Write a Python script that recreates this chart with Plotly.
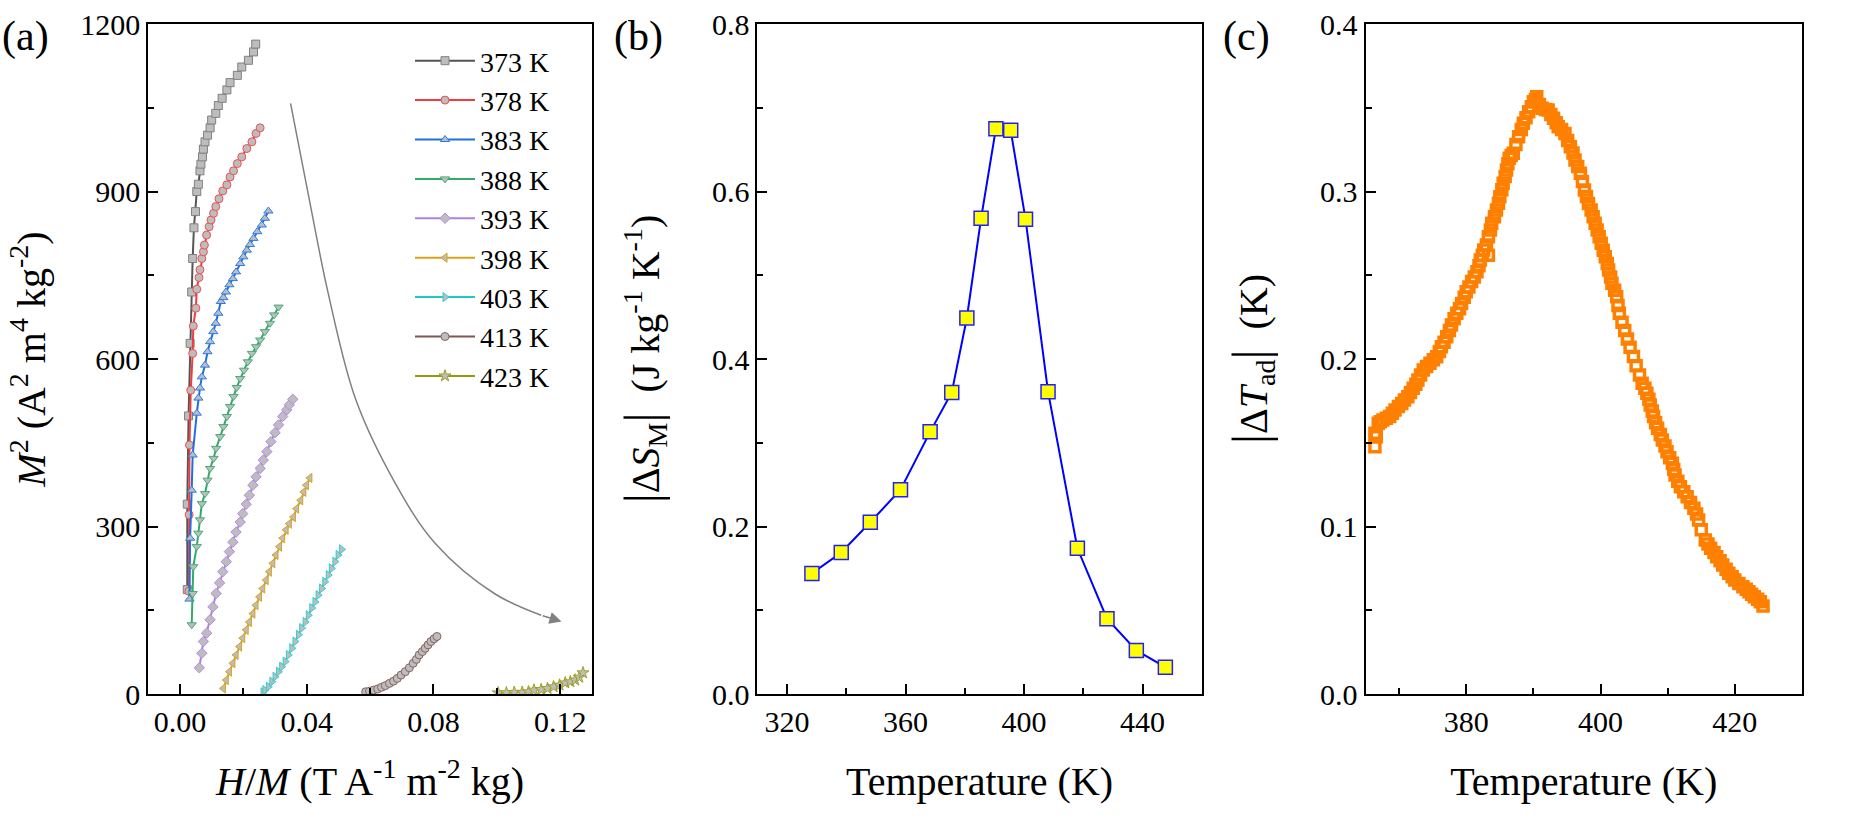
import plotly.graph_objects as go

FONT = "Liberation Serif, Times New Roman, serif"

# ---------------- Panel (a): Arrott plots M^2 vs H/M ----------------
temps_a = ["373 K", "378 K", "383 K", "388 K", "393 K", "398 K", "403 K", "413 K", "423 K"]
colors_a = ["#555555", "#F03C3C", "#1F6FE0", "#35A86B", "#B07FE6", "#D9A21B", "#22C8C8", "#7F5555", "#999911"]
edge_a = ["#808080", "#F05050", "#2A7BE8", "#40AF75", "#B888EA", "#D9A21B", "#30D0D0", "#8A6060", "#A0A020"]
symbols_a = ["square", "circle", "triangle-up", "triangle-down", "diamond", "triangle-left", "triangle-right", "circle", "star"]

hm_373 = [0.0023, 0.0023, 0.0027, 0.0032, 0.0037, 0.0040, 0.0044, 0.0049, 0.0053, 0.0058, 0.0063, 0.0066, 0.0071,
          0.0074, 0.0079, 0.0087, 0.0095, 0.0100, 0.0113, 0.0121, 0.0133, 0.0148, 0.0158, 0.0181, 0.0195, 0.0216,
          0.0232, 0.0239]
m2_373 = [187, 340, 498, 628, 720, 780, 835, 864, 900, 913, 937, 949, 962, 976, 989, 1001, 1014, 1028, 1040, 1054,
          1067, 1082, 1095, 1108, 1123, 1135, 1150, 1164]

hm_378 = [0.0028, 0.0029, 0.0030, 0.0034, 0.0040, 0.0042, 0.0050, 0.0053, 0.0060, 0.0063, 0.0069, 0.0074, 0.0077,
          0.0084, 0.0092, 0.0098, 0.0106, 0.0113, 0.0123, 0.0135, 0.0148, 0.0158, 0.0169, 0.0181, 0.0195, 0.0211,
          0.0227, 0.0240, 0.0253]
m2_378 = [184, 321, 446, 544, 610, 659, 691, 725, 746, 760, 780, 792, 804, 822, 837, 849, 861, 873, 887, 901, 912,
          926, 937, 950, 962, 977, 989, 1004, 1014]

hm_383 = [0.0030, 0.0032, 0.0037, 0.0040, 0.0053, 0.0058, 0.0063, 0.0069, 0.0079, 0.0087, 0.0095, 0.0105, 0.0113,
          0.0121, 0.0129, 0.0137, 0.0145, 0.0156, 0.0167, 0.0177, 0.0190, 0.0200, 0.0211, 0.0221, 0.0232, 0.0244,
          0.0258, 0.0268, 0.0279]
m2_383 = [170, 279, 365, 428, 503, 530, 548, 568, 589, 613, 631, 649, 664, 682, 703, 710, 720, 733, 744, 756, 771,
          783, 795, 805, 816, 828, 840, 852, 865]

hm_388 = [0.0037, 0.0040, 0.0042, 0.0053, 0.0058, 0.0063, 0.0069, 0.0079, 0.0087, 0.0095, 0.0106, 0.0114, 0.0127,
          0.0137, 0.0148, 0.0158, 0.0169, 0.0179, 0.0190, 0.0202, 0.0214, 0.0227, 0.0240, 0.0253, 0.0268, 0.0284,
          0.0297, 0.0311]
m2_388 = [124, 180, 228, 264, 288, 312, 341, 359, 383, 404, 422, 440, 461, 479, 497, 515, 533, 549, 565, 580, 595,
          610, 622, 634, 649, 664, 679, 693]

hm_393 = [0.0061, 0.0069, 0.0074, 0.0084, 0.0095, 0.0104, 0.0114, 0.0125, 0.0135, 0.0146, 0.0156, 0.0167, 0.0177,
          0.0190, 0.0198, 0.0209, 0.0219, 0.0230, 0.0240, 0.0253, 0.0263, 0.0274, 0.0287, 0.0300, 0.0311, 0.0324,
          0.0337, 0.0345, 0.0356]
m2_393 = [47, 73, 94, 109, 133, 156, 180, 199, 219, 237, 255, 272, 290, 308, 323, 340, 356, 374, 389, 404, 419, 434,
          452, 468, 482, 497, 509, 518, 528]

hm_398 = [0.0137, 0.0146, 0.0156, 0.0167, 0.0177, 0.0188, 0.0198, 0.0209, 0.0219, 0.0230, 0.0240, 0.0251, 0.0261,
          0.0272, 0.0282, 0.0293, 0.0303, 0.0314, 0.0324, 0.0335, 0.0345, 0.0358, 0.0368, 0.0381, 0.0391, 0.0399,
          0.0410]
m2_398 = [10, 25, 40, 55, 70, 85, 100, 115, 129, 144, 159, 174, 189, 204, 219, 234, 249, 264, 279, 294, 305, 317,
          332, 347, 362, 374, 387]

hm_403 = [0.0262, 0.0268, 0.0279, 0.0290, 0.0300, 0.0311, 0.0321, 0.0332, 0.0342, 0.0353, 0.0363, 0.0374, 0.0384,
          0.0395, 0.0405, 0.0416, 0.0426, 0.0436, 0.0447, 0.0457, 0.0468, 0.0478, 0.0489, 0.0499, 0.0510]
m2_403 = [3, 7, 13, 22, 31, 40, 49, 58, 70, 82, 94, 106, 118, 129, 141, 154, 165, 177, 189, 201, 213, 225, 237, 249,
          259]

hm_413 = [0.0586, 0.0598, 0.0611, 0.0624, 0.0636, 0.0648, 0.0661, 0.0674, 0.0686, 0.0698, 0.0711, 0.0724, 0.0736,
          0.0746, 0.0755, 0.0765, 0.0774, 0.0783, 0.0792, 0.0802, 0.0811]
m2_413 = [4, 5, 7, 9, 12, 15, 19, 23, 28, 34, 40, 47, 55, 62, 70, 76, 82, 88, 94, 99, 103]

hm_423 = [0.1004, 0.1030, 0.1055, 0.1080, 0.1100, 0.1117, 0.1140, 0.1160, 0.1179, 0.1198, 0.1216, 0.1232, 0.1247,
          0.1260, 0.1272]
m2_423 = [2, 2, 3, 3, 4, 7, 8, 10, 13, 16, 20, 22, 25, 30, 38]

series_a = [(hm_373, m2_373), (hm_378, m2_378), (hm_383, m2_383), (hm_388, m2_388), (hm_393, m2_393),
            (hm_398, m2_398), (hm_403, m2_403), (hm_413, m2_413), (hm_423, m2_423)]

# guide arrow in panel (a)
arrow_hm = [0.0349, 0.0410, 0.0468, 0.0555, 0.0680, 0.0805, 0.0992, 0.1140]
arrow_m2 = [1058, 880, 717, 527, 377, 270, 180, 141]
arrow_tip = (0.1204, 130)

# ---------------- Panel (b): |dS_M| vs T ----------------
temp_b = [328.4, 338.3, 348.1, 358.3, 368.3, 375.6, 380.7, 385.5, 390.5, 395.5, 400.5, 408.1, 418.0, 428.0, 437.9, 447.7]
ds_b = [0.144, 0.169, 0.205, 0.244, 0.313, 0.360, 0.449, 0.568, 0.675, 0.673, 0.567, 0.361, 0.174, 0.090, 0.052, 0.032]

# ---------------- Panel (c): |dT_ad| vs T ----------------
temp_c = [366.4, 366.4, 366.6, 366.9, 367.2, 367.6, 368.1, 368.6, 369.0, 369.4, 369.9, 370.4, 370.8, 371.3, 371.7,
          372.1, 372.5, 372.8, 373.2, 373.6, 374.1, 374.6, 375.1, 375.6, 376.0, 376.3, 376.7, 377.1, 377.5, 377.8,
          378.2, 378.6, 379.0, 379.3, 379.7, 380.0, 380.4, 380.8, 381.2, 381.6, 381.9, 382.1, 382.4, 382.6, 383.0,
          383.3, 383.3, 383.6, 383.8, 384.2, 384.5, 384.8, 385.0, 385.3, 385.5, 385.8, 386.0, 386.2, 386.4, 386.7,
          387.0, 387.4, 387.8, 388.2, 388.5, 388.9, 389.3, 389.7, 390.0, 390.3, 390.5, 390.9, 391.3, 391.8, 392.2,
          392.6, 393.0, 393.4, 393.7, 394.2, 394.7, 395.1, 395.5, 395.9, 396.2, 396.6, 397.0, 397.3, 397.6, 397.9,
          398.2, 398.6, 398.9, 399.2, 399.5, 399.8, 400.1, 400.4, 400.7, 401.0, 401.2, 401.5, 401.7, 402.1, 402.4,
          402.6, 402.8, 403.2, 403.6, 404.0, 404.4, 404.9, 405.3, 405.8, 406.2, 406.6, 406.9, 407.2, 407.4, 407.7,
          407.9, 408.2, 408.5, 408.9, 409.2, 409.6, 409.9, 410.3, 410.7, 410.9, 411.1, 411.5, 411.9, 412.4, 412.9,
          413.4, 413.9, 414.3, 414.6, 415.0, 415.6, 416.0, 416.4, 416.9, 417.3, 417.8, 418.2, 418.7, 419.1, 419.6,
          420.0, 420.6, 421.2, 421.7, 422.1, 422.5, 422.9, 423.4, 423.8, 424.2]
dt_c = [0.1476, 0.1556, 0.1536, 0.1616, 0.1625, 0.1636, 0.1646, 0.1656, 0.1676, 0.1696, 0.1716, 0.1735, 0.1755,
        0.1775, 0.1800, 0.1825, 0.1850, 0.1875, 0.1905, 0.1934, 0.1955, 0.1974, 0.1995, 0.2014, 0.2045, 0.2073,
        0.2100, 0.2133, 0.2170, 0.2203, 0.2240, 0.2273, 0.2300, 0.2332, 0.2368, 0.2402, 0.2430, 0.2462, 0.2490,
        0.2521, 0.2556, 0.2591, 0.2620, 0.2651, 0.2680, 0.2620, 0.2730, 0.2770, 0.2810, 0.2850, 0.2890, 0.2930,
        0.2969, 0.3010, 0.3049, 0.3090, 0.3128, 0.3165, 0.3198, 0.3215, 0.3228, 0.3280, 0.3327, 0.3370, 0.3407,
        0.3440, 0.3476, 0.3506, 0.3536, 0.3550, 0.3566, 0.3520, 0.3497, 0.3490, 0.3487, 0.3460, 0.3437, 0.3410,
        0.3387, 0.3370, 0.3347, 0.3305, 0.3267, 0.3230, 0.3188, 0.3150, 0.3109, 0.3060, 0.3009, 0.2970, 0.2929,
        0.2890, 0.2850, 0.2810, 0.2770, 0.2730, 0.2691, 0.2650, 0.2611, 0.2570, 0.2531, 0.2490, 0.2452, 0.2410,
        0.2372, 0.2320, 0.2273, 0.2220, 0.2170, 0.2120, 0.2070, 0.2015, 0.1960, 0.1905, 0.1855, 0.1825, 0.1795,
        0.1760, 0.1725, 0.1690, 0.1656, 0.1620, 0.1586, 0.1550, 0.1516, 0.1480, 0.1447, 0.1410, 0.1377, 0.1340,
        0.1307, 0.1270, 0.1238, 0.1208, 0.1178, 0.1143, 0.1109, 0.1075, 0.1039, 0.0980, 0.0919, 0.0895, 0.0870,
        0.0845, 0.0820, 0.0795, 0.0770, 0.0745, 0.0721, 0.0700, 0.0681, 0.0660, 0.0641, 0.0625, 0.0611, 0.0595,
        0.0581, 0.0565, 0.0551, 0.0525]

fig = go.Figure()

for i, (xs, ys) in enumerate(series_a):
    fig.add_trace(go.Scatter(
        x=xs, y=ys, name=temps_a[i], mode="lines+markers", xaxis="x", yaxis="y",
        line=dict(color=colors_a[i], width=2),
        marker=dict(symbol=symbols_a[i], size=8 if symbols_a[i] != "star" else 9, color="#BDBDBD",
                    line=dict(color=edge_a[i], width=1)),
    ))

fig.add_trace(go.Scatter(x=arrow_hm, y=arrow_m2, mode="lines", xaxis="x", yaxis="y", showlegend=False,
                         line=dict(color="#808080", width=1.5, shape="spline"), hoverinfo="skip"))

fig.add_trace(go.Scatter(x=temp_b, y=ds_b, mode="lines+markers", xaxis="x2", yaxis="y2", showlegend=False,
                         line=dict(color="#0000FF", width=2),
                         marker=dict(symbol="square", size=14, color="#FFFF00", line=dict(color="#2020FF", width=1.5))))

fig.add_trace(go.Scatter(x=temp_c, y=dt_c, mode="markers", xaxis="x3", yaxis="y3", showlegend=False,
                         marker=dict(symbol="square-open", size=10, color="#FF8000", line=dict(width=3.5))))

W, H = 1850, 820
def dom(a, b, total):
    return [a / total, b / total]

ydom = [1 - 694 / H, 1 - 24 / H]
tickfont = dict(family=FONT, size=30, color="black")
titlefont = dict(family=FONT, size=40, color="black")

def axis_common():
    return dict(showline=True, linecolor="black", linewidth=2, mirror=True, ticks="inside", ticklen=10,
                tickwidth=2, tickcolor="black", showgrid=False, zeroline=False, tickfont=tickfont,
                automargin=False)

xa = axis_common(); xa.update(domain=dom(148.3, 591.9, W), range=[-0.01, 0.13], tick0=0, dtick=0.04,
                              tickformat=".2f", anchor="y",
                              minor=dict(dtick=0.02, ticklen=6, tickwidth=2, tickcolor="black", ticks="inside"),
                              title=dict(text="<i>H</i>/<i>M</i> (T A<sup>-1</sup> m<sup>-2</sup> kg)",
                                         font=titlefont, standoff=30))
ya = axis_common(); ya.update(domain=ydom, range=[0, 1200], tick0=0, dtick=300, anchor="x",
                              minor=dict(dtick=150, ticklen=6, tickwidth=2, tickcolor="black", ticks="inside"),
                              title=dict(text="<i>M</i><sup>2</sup> (A<sup>2</sup> m<sup>4</sup> kg<sup>-2</sup>)",
                                         font=titlefont, standoff=22))
xb = axis_common(); xb.update(domain=dom(757.4, 1201.8, W), range=[310, 460], tick0=320, dtick=40, anchor="y2",
                              minor=dict(dtick=20, ticklen=6, tickwidth=2, tickcolor="black", ticks="inside"),
                              title=dict(text="Temperature (K)", font=titlefont, standoff=30))
yb = axis_common(); yb.update(domain=ydom, range=[0, 0.8], tick0=0, dtick=0.2, tickformat=".1f", anchor="x2",
                              minor=dict(dtick=0.1, ticklen=6, tickwidth=2, tickcolor="black", ticks="inside"),
                              title=dict(text="<span style='font-size:50px'>|</span>\u0394<i>S</i><sub>M</sub><span style='font-size:50px'>|</span>  (J kg<sup>-1</sup> K<sup>-1</sup>)",
                                         font=titlefont, standoff=40))
xc = axis_common(); xc.update(domain=dom(1365.5, 1802, W), range=[365, 430], tick0=380, dtick=20, anchor="y3",
                              minor=dict(dtick=10, ticklen=6, tickwidth=2, tickcolor="black", ticks="inside"),
                              title=dict(text="Temperature (K)", font=titlefont, standoff=30))
yc = axis_common(); yc.update(domain=ydom, range=[0, 0.4], tick0=0, dtick=0.1, tickformat=".1f", anchor="x3",
                              minor=dict(dtick=0.05, ticklen=6, tickwidth=2, tickcolor="black", ticks="inside"),
                              title=dict(text="<span style='font-size:50px'>|</span>\u0394<i>T</i><sub>ad</sub><span style='font-size:50px'>|</span>  (K)",
                                         font=titlefont, standoff=40))

annotations = [
    dict(text="(a)", x=0.0, y=1 - 36 / H, xref="paper", yref="paper", xanchor="left", yanchor="middle",
         showarrow=False, font=dict(family=FONT, size=42, color="black")),
    dict(text="(b)", x=612 / W, y=1 - 36 / H, xref="paper", yref="paper", xanchor="left", yanchor="middle",
         showarrow=False, font=dict(family=FONT, size=42, color="black")),
    dict(text="(c)", x=1221 / W, y=1 - 36 / H, xref="paper", yref="paper", xanchor="left", yanchor="middle",
         showarrow=False, font=dict(family=FONT, size=42, color="black")),
    dict(text="", x=arrow_tip[0], y=arrow_tip[1], ax=arrow_hm[-1], ay=arrow_m2[-1], xref="x", yref="y",
         axref="x", ayref="y", showarrow=True, arrowhead=2, arrowsize=1.6, arrowwidth=1.5, arrowcolor="#808080"),
]

fig.update_layout(
    width=W, height=H, margin=dict(l=0, r=0, t=0, b=0),
    paper_bgcolor="white", plot_bgcolor="white",
    font=dict(family=FONT, color="black"),
    xaxis=xa, yaxis=ya, xaxis2=xb, yaxis2=yb, xaxis3=xc, yaxis3=yc,
    annotations=annotations,
    legend=dict(x=410 / W, y=1 - 36 / H, xanchor="left", yanchor="top", bgcolor="rgba(0,0,0,0)",
                font=dict(family=FONT, size=28, color="black"), itemwidth=60, tracegroupgap=0),
    showlegend=True,
)

fig.write_html("out.html")
